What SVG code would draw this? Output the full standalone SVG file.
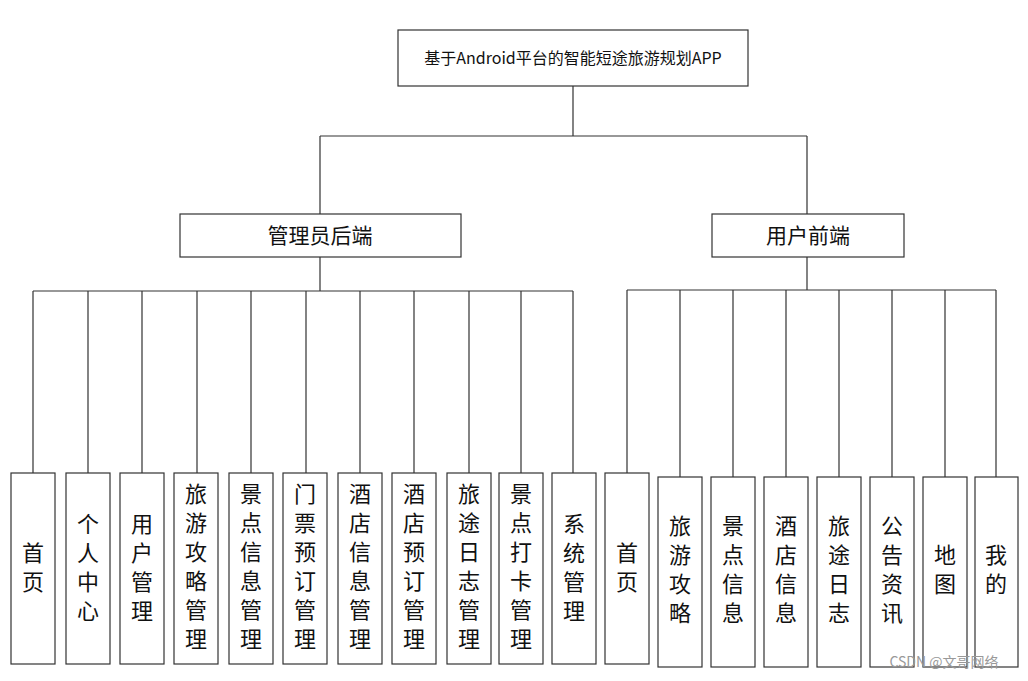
<svg xmlns="http://www.w3.org/2000/svg" width="1028" height="681" viewBox="0 0 1028 681">
<style>
rect.b{fill:#fff;stroke:#333;stroke-width:1.2}
text{font-family:"Noto Sans CJK SC","Noto Sans",sans-serif;fill:#111;text-anchor:middle}
.t{font-size:16px}.m{font-size:21px}.l{font-size:22px}
#c path{fill:none;stroke:#333;stroke-width:1.2}
</style>
<rect width="1028" height="681" fill="#fff"/>
<g id="c"><path d="M573 86V136M320 136H807M320 136V214M807 136V214M320 257V291M33 291H573M33 291V473M88 291V473M142 291V473M197 291V473M251 291V473M306 291V473M360 291V473M414 291V473M469 291V473M521 291V473M573 291V473M807 257V290M627 290H996M627 290V473M680 290V477M733 290V477M786 290V477M839 290V477M892 290V477M945 290V477M996 290V477"/></g>
<g id="root"><rect class="b" x="398" y="30" width="350" height="56"/><text class="t" x="573" y="64">基于Android平台的智能短途旅游规划APP</text></g>
<g id="admin"><rect class="b" x="180" y="214" width="281" height="43"/><text class="m" x="320" y="243">管理员后端</text></g>
<g id="user"><rect class="b" x="712" y="214" width="192" height="43"/><text class="m" x="808" y="243">用户前端</text></g>
<g id="a1"><rect class="b" x="11" y="473" width="44" height="191"/><text class="l" x="33" y="561">首</text><text class="l" x="33" y="590">页</text></g>
<g id="a2"><rect class="b" x="66" y="473" width="44" height="191"/><text class="l" x="88" y="532">个</text><text class="l" x="88" y="561">人</text><text class="l" x="88" y="590">中</text><text class="l" x="88" y="619">心</text></g>
<g id="a3"><rect class="b" x="120" y="473" width="44" height="191"/><text class="l" x="142" y="532">用</text><text class="l" x="142" y="561">户</text><text class="l" x="142" y="590">管</text><text class="l" x="142" y="619">理</text></g>
<g id="a4"><rect class="b" x="174" y="473" width="44" height="191"/><text class="l" x="196" y="502">旅</text><text class="l" x="196" y="531">游</text><text class="l" x="196" y="560">攻</text><text class="l" x="196" y="589">略</text><text class="l" x="196" y="618">管</text><text class="l" x="196" y="647">理</text></g>
<g id="a5"><rect class="b" x="229" y="473" width="44" height="191"/><text class="l" x="251" y="502">景</text><text class="l" x="251" y="531">点</text><text class="l" x="251" y="560">信</text><text class="l" x="251" y="589">息</text><text class="l" x="251" y="618">管</text><text class="l" x="251" y="647">理</text></g>
<g id="a6"><rect class="b" x="283" y="473" width="44" height="191"/><text class="l" x="305" y="502">门</text><text class="l" x="305" y="531">票</text><text class="l" x="305" y="560">预</text><text class="l" x="305" y="589">订</text><text class="l" x="305" y="618">管</text><text class="l" x="305" y="647">理</text></g>
<g id="a7"><rect class="b" x="338" y="473" width="44" height="191"/><text class="l" x="360" y="502">酒</text><text class="l" x="360" y="531">店</text><text class="l" x="360" y="560">信</text><text class="l" x="360" y="589">息</text><text class="l" x="360" y="618">管</text><text class="l" x="360" y="647">理</text></g>
<g id="a8"><rect class="b" x="392" y="473" width="44" height="191"/><text class="l" x="414" y="502">酒</text><text class="l" x="414" y="531">店</text><text class="l" x="414" y="560">预</text><text class="l" x="414" y="589">订</text><text class="l" x="414" y="618">管</text><text class="l" x="414" y="647">理</text></g>
<g id="a9"><rect class="b" x="447" y="473" width="44" height="191"/><text class="l" x="469" y="502">旅</text><text class="l" x="469" y="531">途</text><text class="l" x="469" y="560">日</text><text class="l" x="469" y="589">志</text><text class="l" x="469" y="618">管</text><text class="l" x="469" y="647">理</text></g>
<g id="a10"><rect class="b" x="499" y="473" width="44" height="191"/><text class="l" x="521" y="502">景</text><text class="l" x="521" y="531">点</text><text class="l" x="521" y="560">打</text><text class="l" x="521" y="589">卡</text><text class="l" x="521" y="618">管</text><text class="l" x="521" y="647">理</text></g>
<g id="a11"><rect class="b" x="552" y="473" width="44" height="191"/><text class="l" x="574" y="532">系</text><text class="l" x="574" y="561">统</text><text class="l" x="574" y="590">管</text><text class="l" x="574" y="619">理</text></g>
<g id="u1"><rect class="b" x="605" y="473" width="44" height="191"/><text class="l" x="627" y="561">首</text><text class="l" x="627" y="590">页</text></g>
<g id="u2"><rect class="b" x="658" y="477" width="44" height="190"/><text class="l" x="680" y="534">旅</text><text class="l" x="680" y="563">游</text><text class="l" x="680" y="592">攻</text><text class="l" x="680" y="621">略</text></g>
<g id="u3"><rect class="b" x="711" y="477" width="44" height="190"/><text class="l" x="733" y="534">景</text><text class="l" x="733" y="563">点</text><text class="l" x="733" y="592">信</text><text class="l" x="733" y="621">息</text></g>
<g id="u4"><rect class="b" x="764" y="477" width="44" height="190"/><text class="l" x="786" y="534">酒</text><text class="l" x="786" y="563">店</text><text class="l" x="786" y="592">信</text><text class="l" x="786" y="621">息</text></g>
<g id="u5"><rect class="b" x="817" y="477" width="44" height="190"/><text class="l" x="839" y="534">旅</text><text class="l" x="839" y="563">途</text><text class="l" x="839" y="592">日</text><text class="l" x="839" y="621">志</text></g>
<g id="u6"><rect class="b" x="870" y="477" width="44" height="190"/><text class="l" x="892" y="534">公</text><text class="l" x="892" y="563">告</text><text class="l" x="892" y="592">资</text><text class="l" x="892" y="621">讯</text></g>
<g id="u7"><rect class="b" x="923" y="477" width="44" height="190"/><text class="l" x="945" y="563">地</text><text class="l" x="945" y="592">图</text></g>
<g id="u8"><rect class="b" x="975" y="477" width="43" height="190"/><text class="l" x="996" y="563">我</text><text class="l" x="996" y="592">的</text></g>
<text x="944" y="667" style="font-size:14px;fill:#999">CSDN @文哥网络</text>
</svg>
